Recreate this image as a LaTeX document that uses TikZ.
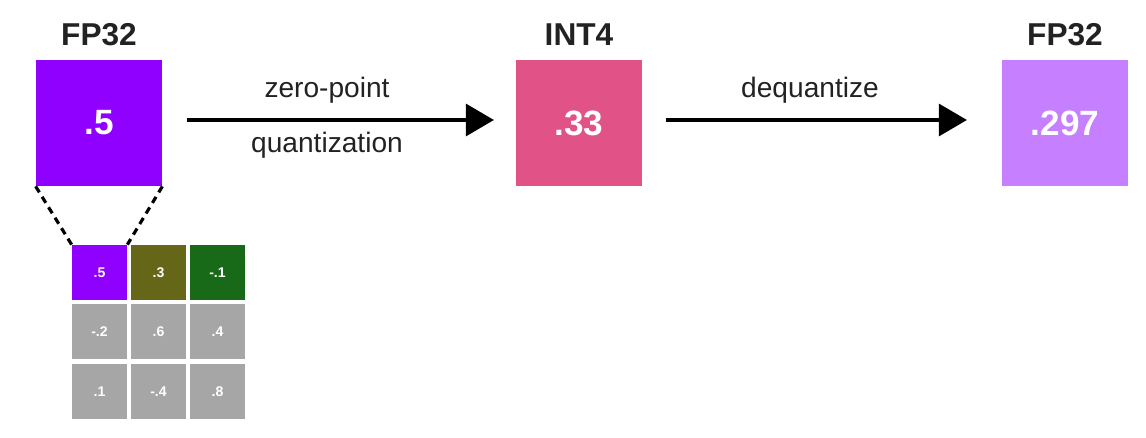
\documentclass[tikz,border=0pt]{standalone}
\usepackage{fontspec}
\setmainfont{Liberation Sans}
\usetikzlibrary{arrows.meta}
\definecolor{cpur}{HTML}{8F00FF}
\definecolor{cpink}{HTML}{E15287}
\definecolor{clpur}{HTML}{C57FFF}
\definecolor{colive}{HTML}{666619}
\definecolor{cgreen}{HTML}{186918}
\definecolor{cgray}{HTML}{A6A6A6}
\definecolor{ctxt}{HTML}{222222}
\begin{document}
\begin{tikzpicture}[x=0.02cm,y=-0.02cm,
  big/.style={minimum size=126*0.02cm,inner sep=0,text=white,font=\fontsize{20}{24}\selectfont\bfseries},
  cell/.style={minimum size=55*0.02cm,inner sep=0,text=white,font=\fontsize{8}{10}\selectfont\bfseries,fill=cgray},
  head/.style={text=ctxt,font=\fontsize{18}{22}\selectfont\bfseries},
  lab/.style={text=ctxt,font=\fontsize{16}{20}\selectfont},
  arr/.style={line width=2.5pt,-{Triangle[length=16pt,width=18pt]}}]
\useasboundingbox (0,0) rectangle (1146,438);
\node[big,fill=cpur] (a) at (99,123) {.5};
\node[big,fill=cpink] (b) at (579,123) {.33};
\node[big,fill=clpur] (c) at (1065,123) {.297};
\node[head] (ha) at (99,35) {FP32};
\node[head] (hb) at (579,35) {INT4};
\node[head] (hc) at (1065,35) {FP32};
\coordinate (a1) at (187,120); \coordinate (a2) at (494,120);
\coordinate (b1) at (666,120); \coordinate (b2) at (967,120);
\draw[arr] (a1) -- (a2);
\draw[arr] (b1) -- (b2);
\node[lab] (l1) at (327,90) {zero-point};
\node[lab] (l2) at (327,145) {quantization};
\node[lab] (l3) at (810,90) {dequantize};
\node[cell,fill=cpur] (g11) at (99.5,272.5) {.5};
\node[cell,fill=colive] (g12) at (158.5,272.5) {.3};
\node[cell,fill=cgreen] (g13) at (217.5,272.5) {-.1};
\node[cell] (g21) at (99.5,332) {-.2};
\node[cell] (g22) at (158.5,332) {.6};
\node[cell] (g23) at (217.5,332) {.4};
\node[cell] (g31) at (99.5,391.5) {.1};
\node[cell] (g32) at (158.5,391.5) {-.4};
\node[cell] (g33) at (217.5,391.5) {.8};
\draw[line width=1.8pt,dash pattern=on 4pt off 3pt] (a.south west) -- (g11.north west);
\draw[line width=1.8pt,dash pattern=on 4pt off 3pt] (a.south east) -- (g11.north east);
\end{tikzpicture}
\end{document}
